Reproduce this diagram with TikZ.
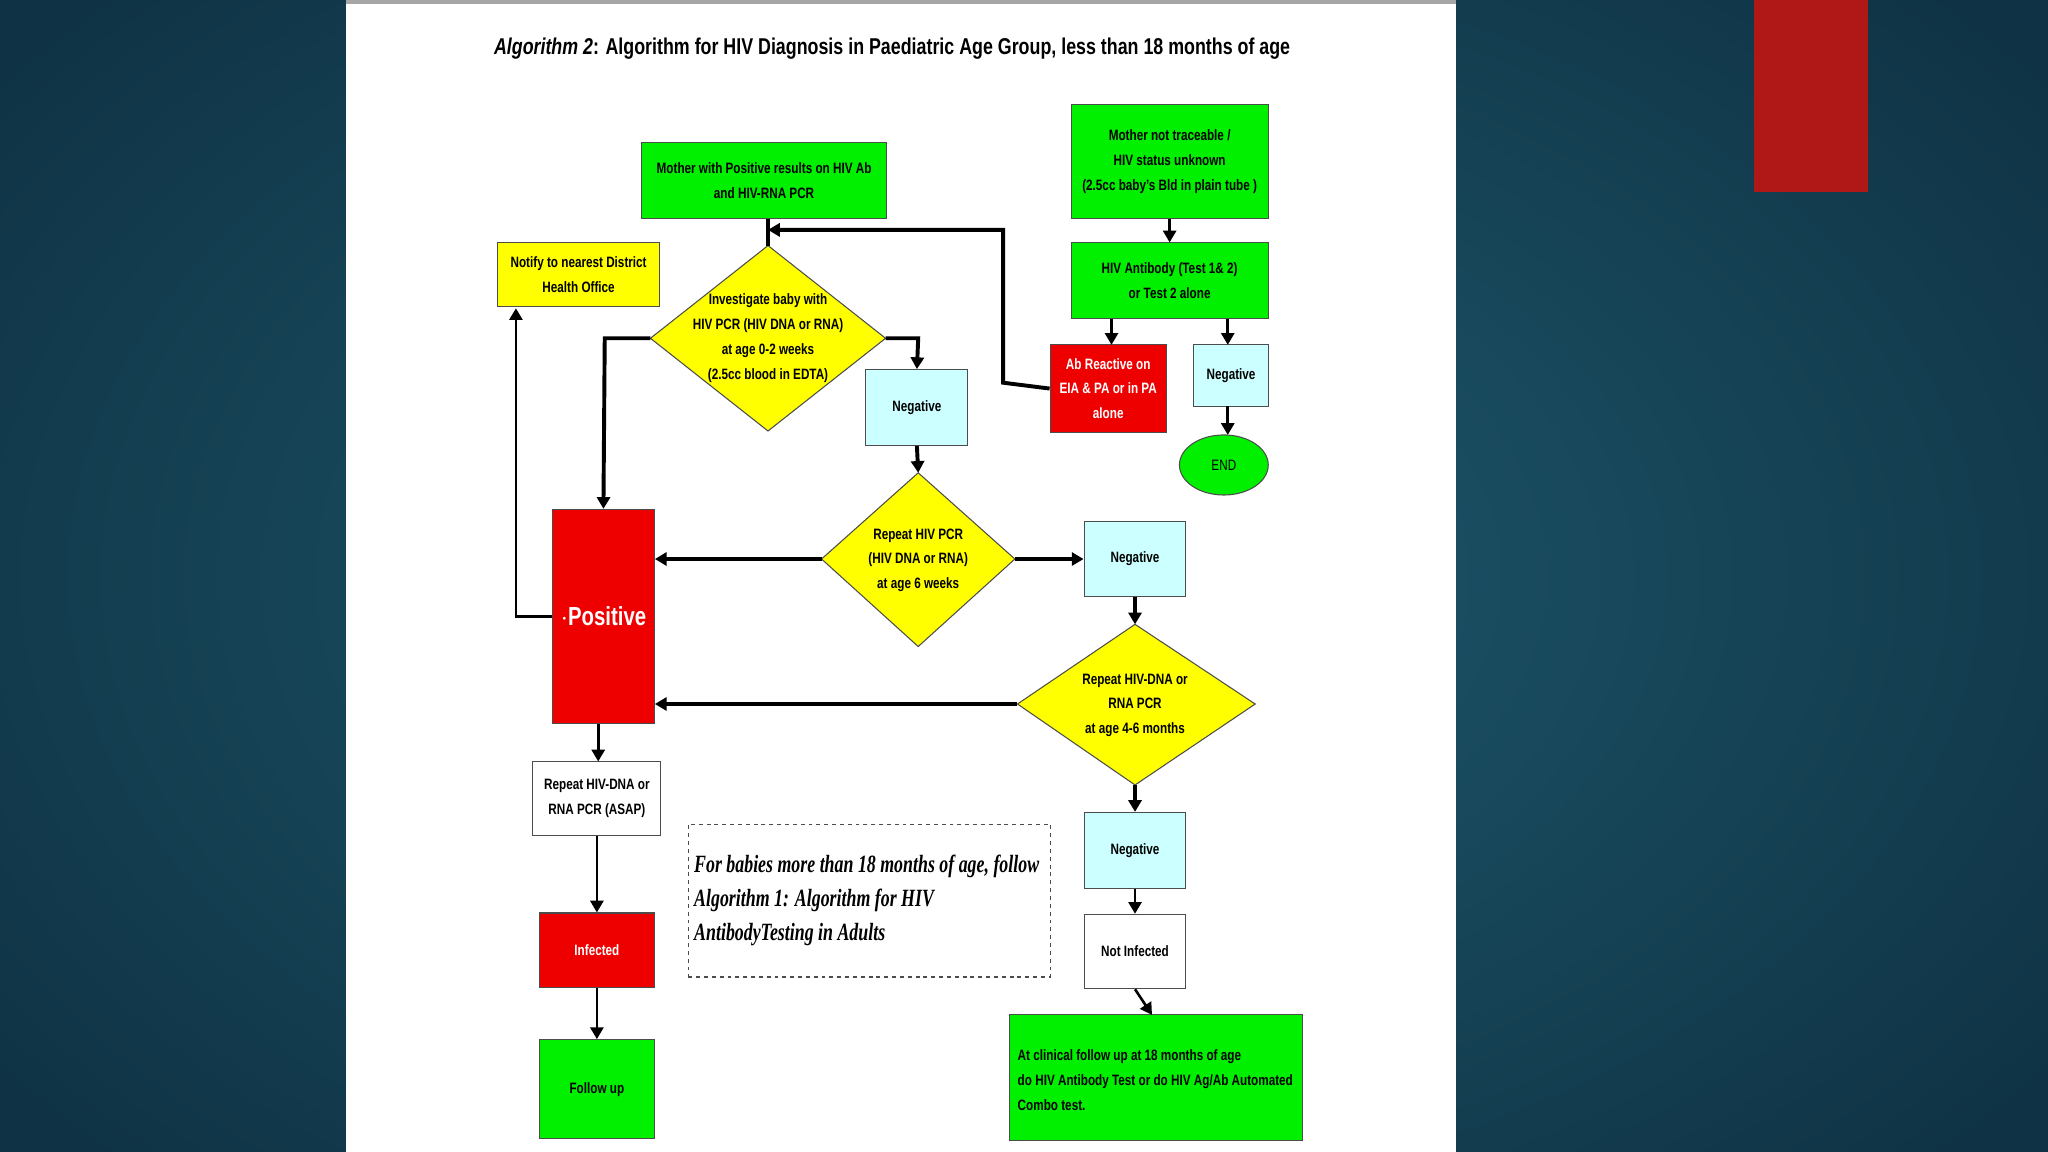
\documentclass[tikz,border=0pt]{standalone}
\usepackage{fontspec}
\setmainfont{Liberation Sans}[FakeStretch=0.78]
\newfontfamily\serifit{Liberation Serif}[FakeStretch=0.72]
\usetikzlibrary{shapes.geometric,arrows.meta}
\definecolor{bgA}{HTML}{1F5A6E}
\definecolor{bgB}{HTML}{0F3345}
\definecolor{gr}{HTML}{00F000}
\definecolor{yl}{HTML}{FFFF00}
\definecolor{cy}{HTML}{CCFFFF}
\definecolor{rd}{HTML}{EE0000}
\definecolor{dred}{HTML}{B01818}
\tikzset{
 bx/.style={draw=black!70,line width=0.8pt,inner sep=0pt,align=center,font=\bfseries\fontsize{11.5}{19}\selectfont},
 dmshape/.style={draw=black!70,line width=0.8pt,fill=yl},
 dmtext/.style={align=center,font=\bfseries\fontsize{11.5}{19}\selectfont},
 ar/.style={line width=3pt,-{Triangle[length=9pt,width=10pt]}},
 ln/.style={line width=3pt}
}
\begin{document}
\begin{tikzpicture}[x=1pt,y=-1pt]
\useasboundingbox (0,0) rectangle (1568,882);
\shade[inner color=bgA,outer color=bgB] (-200,-200) rectangle (1768,1082);
\fill[white] (265,0) rectangle (1115,882);
\fill[black!35] (265,0) rectangle (1115,3);
\fill[dred] (1343,0) rectangle (1430,147);
\node (title) at (683,37) {\fontsize{17.5}{20}\selectfont\bfseries\textit{Algorithm 2}: Algorithm for HIV Diagnosis in Paediatric Age Group, less than 18 months of age};
% diamonds
\coordinate (d1n) at (588,188); \coordinate (d1e) at (678,259); \coordinate (d1s) at (588,330); \coordinate (d1w) at (498,259);
\draw[dmshape] (d1n) -- (d1e) -- (d1s) -- (d1w) -- cycle;
\node[dmtext] (d1) at (588,259) {Investigate baby with\\HIV PCR (HIV DNA or RNA)\\at age 0-2 weeks\\(2.5cc blood in EDTA)};
\coordinate (d2n) at (703,362); \coordinate (d2e) at (777,428); \coordinate (d2s) at (703,495); \coordinate (d2w) at (629,428);
\draw[dmshape] (d2n) -- (d2e) -- (d2s) -- (d2w) -- cycle;
\node[dmtext] (d2) at (703,429) {Repeat HIV PCR\\(HIV DNA or RNA)\\at age 6 weeks};
\coordinate (d3n) at (869,478); \coordinate (d3e) at (961,539); \coordinate (d3s) at (869,601); \coordinate (d3w) at (779,539);
\draw[dmshape] (d3n) -- (d3e) -- (d3s) -- (d3w) -- cycle;
\node[dmtext] (d3) at (869,540) {Repeat HIV-DNA or\\RNA PCR\\at age 4-6 months};
% nodes
\node[bx,fill=gr,minimum width=188pt,minimum height=58pt] (mp) at (585,138) {Mother with Positive results on HIV Ab\\and HIV-RNA PCR};
\node[bx,fill=gr,minimum width=151pt,minimum height=87pt] (mn) at (895.5,123.5) {Mother not traceable /\\HIV status unknown\\(2.5cc baby's Bld in plain tube )};
\node[bx,fill=gr,minimum width=151pt,minimum height=58pt] (ab) at (895.5,215) {HIV Antibody (Test 1\& 2)\\or Test 2 alone};
\node[bx,fill=yl,minimum width=124pt,minimum height=49pt] (nt) at (443,210.5) {Notify to nearest District\\Health Office};
\node[bx,fill=cy,minimum width=78pt,minimum height=58pt] (n1) at (702,312) {Negative};
\node[bx,fill=rd,text=white,minimum width=89pt,minimum height=67pt] (ar) at (848.5,297.5) {Ab Reactive on\\EIA \& PA or in PA\\alone};
\node[bx,fill=cy,minimum width=57pt,minimum height=47pt] (n2) at (942.5,287.5) {Negative};
\node[draw=black!70,line width=0.8pt,fill=gr,ellipse,minimum width=68pt,minimum height=46pt,font=\fontsize{11.5}{13}\selectfont] (end) at (937,356) {END};
\node[bx,fill=rd,text=white,minimum width=78pt,minimum height=164pt,font=\bfseries\fontsize{20}{22}\selectfont] (pos) at (462,472) {$\cdot$Positive};
\node[bx,fill=cy,minimum width=78pt,minimum height=58pt] (n3) at (869,428) {Negative};
\node[bx,fill=white,minimum width=98pt,minimum height=57pt] (ra) at (457,611.5) {Repeat HIV-DNA or\\RNA PCR (ASAP)};
\node[draw=black!70,dashed,line width=0.8pt,minimum width=277pt,minimum height=117pt,text width=268pt,align=flush left,font=\serifit\itshape\bfseries\fontsize{19}{26}\selectfont] (note) at (665.5,689.5) {For babies more than 18 months of age, follow Algorithm 1: Algorithm for HIV\ \ AntibodyTesting in Adults};
\node[bx,fill=cy,minimum width=78pt,minimum height=58pt] (n4) at (869,651) {Negative};
\node[bx,fill=rd,text=white,minimum width=88pt,minimum height=57pt] (inf) at (457,727.5) {Infected};
\node[bx,fill=white,minimum width=78pt,minimum height=57pt] (ni) at (869,728.5) {Not Infected};
\node[bx,fill=gr,minimum width=88pt,minimum height=76pt] (fu) at (457,834) {Follow up};
\node[bx,fill=gr,minimum width=224pt,minimum height=96pt] (cl) at (885,825) {};
\node[align=left,anchor=west,inner sep=0pt,font=\bfseries\fontsize{11.5}{19}\selectfont] (clt) at (779,827) {At clinical follow up at 18 months of age\\do HIV Antibody Test or do HIV Ag/Ab Automated\\Combo test.};
% connectors
\coordinate (j1) at (588,176);
\draw[ln] (mp.south -| d1n) -- (d1n);
\draw[ar] (ar.west) -- (768,293) -- (768,176) -- (j1);
\draw[ar] (d1e) -- (703,259) -- (n1.north);
\draw[ar] (d1w) -- (463,259) -- (pos.north);
\draw[ar] (n1.south) -- (d2n);
\draw[ar] (d2w) -- (pos.east |- d2w);
\draw[ar] (d2e) -- (n3.west);
\draw[ar] (n3.south) -- (d3n);
\draw[ar] (d3w) -- (pos.east |- d3w);
\draw[ar] (d3s) -- (n4.north);
\draw[ar,line width=2pt] (n4.south) -- (ni.north);
\draw[ar,line width=2pt] (ni.south) -- (882,777);
\draw[ar,line width=2pt] (pos.west) -- (395,472) -- (395,236);
\draw[ar,line width=2pt] (458,554) -- (458,583);
\draw[ar,line width=2pt] (ra.south) -- (inf.north);
\draw[ar,line width=2pt] (inf.south) -- (fu.north);
\draw[ar,line width=2pt] (mn.south) -- (ab.north);
\draw[ar,line width=2pt] (851,244) -- (851,264);
\draw[ar,line width=2pt] (940,244) -- (940,264);
\draw[ar,line width=2pt] (940,311) -- (940,333);
\end{tikzpicture}
\end{document}
